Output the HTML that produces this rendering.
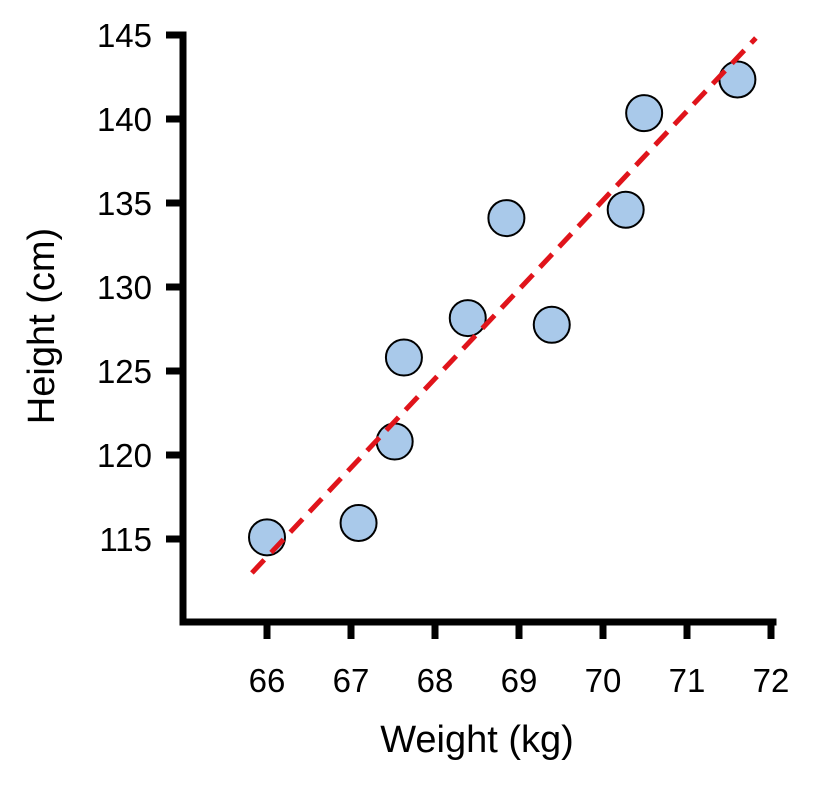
<!DOCTYPE html>
<html><head><meta charset="utf-8"><style>
html,body{margin:0;padding:0;background:#fff;}
svg{display:block;font-family:"Liberation Sans",sans-serif;}
</style></head><body>
<svg id="chart" width="813" height="786" viewBox="0 0 813 786">
<g id="axes"></g>
<g id="marks"></g>
</svg>
<script>
const weights = [66.0, 67.09, 67.52, 67.63, 68.39, 68.85, 69.39, 70.27, 70.49, 71.6];
const heights = [115.1, 115.95, 120.8, 125.8, 128.15, 134.1, 127.75, 134.6, 140.35, 142.35];
const xTicks = [66, 67, 68, 69, 70, 71, 72];
const yTicks = [115, 120, 125, 130, 135, 140, 145];
const trendX = [65.82, 71.82];
const trendY = [112.98, 144.82];

const NS = "http://www.w3.org/2000/svg";
function X(v){ return 267 + (v - 66) * 84; }
function Y(v){ return 35 + (145 - v) * 16.8; }
function mk(tag, attrs, parent){
  const e = document.createElementNS(NS, tag);
  for (const k in attrs) e.setAttribute(k, attrs[k]);
  parent.appendChild(e); return e;
}
const axes = document.getElementById('axes');
const marks = document.getElementById('marks');

let el = mk('path', {d:`M183,35 L183,622 L773,622`, fill:'none', stroke:'#000', 'stroke-width':7, 'stroke-linecap':'square'}, axes);



yTicks.forEach(t => {
  const y = Y(t);
  let l = mk('line', {x1:166, x2:183, y1:y, y2:y, stroke:'#000', 'stroke-width':7}, axes);
  
  
  let tx = mk('text', {x:152, y:y+12, 'text-anchor':'end', 'font-size':33, fill:'#000'}, axes);
  tx.textContent = t;
  
  
});
xTicks.forEach(t => {
  const x = X(t);
  let l = mk('line', {x1:x, x2:x, y1:622, y2:639, stroke:'#000', 'stroke-width':7}, axes);
  
  
  let tx = mk('text', {x:x, y:692, 'text-anchor':'middle', 'font-size':33, fill:'#000'}, axes);
  tx.textContent = t;
  
  
});
let xt = mk('text', {x:477, y:752, 'text-anchor':'middle', 'font-size':38, fill:'#000'}, axes);
xt.textContent = 'Weight (kg)';


let yt = mk('text', {x:0, y:0, 'text-anchor':'middle', 'font-size':38, fill:'#000', transform:'translate(54,326) rotate(-90)'}, axes);
yt.textContent = 'Height (cm)';



weights.forEach((w, i) => {
  let c = mk('circle', {cx:X(w), cy:Y(heights[i]), r:18, fill:'#a9c9ea', stroke:'#000', 'stroke-width':2}, marks);
  
  
});
let tl = mk('line', {x1:X(trendX[0]), y1:Y(trendY[0]), x2:X(trendX[1]), y2:Y(trendY[1]), stroke:'#e0141b', 'stroke-width':5, 'stroke-dasharray':'18,10'}, marks);


</script>
</body></html>
